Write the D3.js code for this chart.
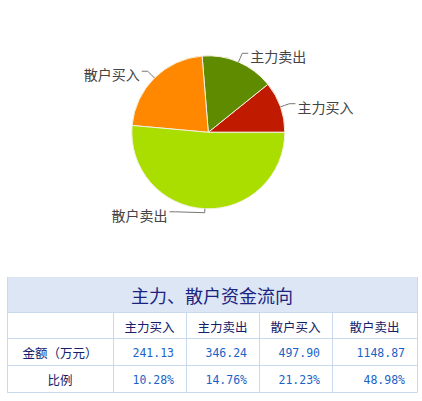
<!DOCTYPE html>
<html>
<head>
<meta charset="utf-8">
<script src="https://cdn.jsdelivr.net/npm/d3@7"></script>
<style>
  body { margin: 0; background: #fff; }
  svg { display: block; }
</style>
</head>
<body>
<div id="chart"></div>
<script>
// data
const categories = ["主力买入", "主力卖出", "散户买入", "散户卖出"];
const amounts = [241.13, 346.24, 497.90, 1148.87];
const amountLabels = ["241.13", "346.24", "497.90", "1148.87"];
const ratioLabels = ["10.28%", "14.76%", "21.23%", "48.98%"];
const sliceColors = ["#c01b00", "#5f8b00", "#ff8800", "#a9de00"];
const tableTitle = "主力、散户资金流向";
const rowHeaders = ["金额（万元）", "比例"];

const W = 422, H = 401;
const svg = d3.select("#chart").append("svg")
    .attr("width", W)
    .attr("height", H);

// ---- pie ----
const cx = 208.3, cy = 132.3, r = 76.5;
const labelR = 86;

// start at 3 o'clock and go counter-clockwise
const pie = d3.pie()
    .sort(null)
    .startAngle(Math.PI / 2)
    .endAngle(Math.PI / 2 - 2 * Math.PI);

const arcs = pie(amounts);
const arc = d3.arc().innerRadius(0).outerRadius(r);

const pieG = svg.append("g")
    .attr("transform", `translate(${cx},${cy})`);

pieG.selectAll("path.slice")
    .data(arcs)
    .join("path")
    .attr("class", "slice")
    .attr("d", arc)
    .attr("fill", (d, i) => sliceColors[i])
    .attr("stroke", "#f4f0e0")
    .attr("stroke-width", 1);

// labels with connectors
arcs.forEach((d, i) => {
    const m = (d.startAngle + d.endAngle) / 2;
    const sx = Math.sin(m), sy = -Math.cos(m);
    const left = sx < 0;
    let dy = labelR * sy;
    dy = Math.max(-(r + 3), Math.min(r + 3, dy));
    const dx = (left ? -1 : 1) * Math.sqrt(labelR * labelR - dy * dy);

    const pts = [
        [r * sx, r * sy],
        [(r + 4) * sx, (r + 4) * sy],
        [dx, dy],
        [dx + (left ? -6 : 6), dy]
    ];
    pieG.append("path")
        .attr("d", d3.line()(pts))
        .attr("fill", "none")
        .attr("stroke", "#777")
        .attr("stroke-width", 1);

    pieG.append("text")
        .attr("x", dx + (left ? -8 : 8))
        .attr("y", dy + 3)
        .attr("text-anchor", left ? "end" : "start")
        .attr("dominant-baseline", "central")
        .attr("font-family", "'Noto Sans CJK SC', sans-serif")
        .attr("font-size", 14)
        .attr("fill", "#444")
        .text(categories[i]);
});

// ---- table ----
const colEdges = [7, 113, 186, 259, 332, 417];
const rowEdges = [277, 312, 338, 365, 392];
const lineColor = "#c9d8ef";
const tbl = svg.append("g");

tbl.append("rect")
    .attr("x", colEdges[0]).attr("y", rowEdges[0])
    .attr("width", colEdges[5] - colEdges[0])
    .attr("height", rowEdges[1] - rowEdges[0])
    .attr("fill", "#dce6f5");

tbl.append("text")
    .attr("x", (colEdges[0] + colEdges[5]) / 2)
    .attr("y", (rowEdges[0] + rowEdges[1]) / 2)
    .attr("text-anchor", "middle")
    .attr("dominant-baseline", "central")
    .attr("font-family", "'Noto Sans CJK SC', sans-serif")
    .attr("font-size", 18)
    .attr("fill", "#1a2380")
    .text(tableTitle);

// horizontal lines
tbl.selectAll("line.h")
    .data(rowEdges.slice(1))
    .join("line")
    .attr("class", "h")
    .attr("x1", colEdges[0]).attr("x2", colEdges[5])
    .attr("y1", d => d + 0.5).attr("y2", d => d + 0.5)
    .attr("stroke", lineColor);

// vertical lines
tbl.selectAll("line.v")
    .data(colEdges)
    .join("line")
    .attr("class", "v")
    .attr("x1", d => d + 0.5).attr("x2", d => d + 0.5)
    .attr("y1", (d, i) => (i === 0 || i === colEdges.length - 1) ? rowEdges[0] : rowEdges[1])
    .attr("y2", rowEdges[4] + 0.5)
    .attr("stroke", lineColor);

const cjk = "'Noto Sans CJK SC', sans-serif";
const mono = "'DejaVu Sans Mono', 'Liberation Mono', monospace";

// column headers
tbl.selectAll("text.colhead")
    .data(categories)
    .join("text")
    .attr("class", "colhead")
    .attr("x", (d, i) => (colEdges[i + 1] + colEdges[i + 2]) / 2)
    .attr("y", (rowEdges[1] + rowEdges[2]) / 2 + 1)
    .attr("text-anchor", "middle")
    .attr("dominant-baseline", "central")
    .attr("font-family", cjk)
    .attr("font-size", 12.5)
    .attr("fill", "#14206a")
    .text(d => d);

// row headers
tbl.selectAll("text.rowhead")
    .data(rowHeaders)
    .join("text")
    .attr("class", "rowhead")
    .attr("x", (colEdges[0] + colEdges[1]) / 2)
    .attr("y", (d, i) => (rowEdges[i + 2] + rowEdges[i + 3]) / 2 + 1)
    .attr("text-anchor", "middle")
    .attr("dominant-baseline", "central")
    .attr("font-family", cjk)
    .attr("font-size", 12.5)
    .attr("fill", "#14206a")
    .text(d => d);

// values
[amountLabels, ratioLabels].forEach((row, ri) => {
    tbl.selectAll("text.val" + ri)
        .data(row)
        .join("text")
        .attr("class", "val" + ri)
        .attr("x", (d, i) => colEdges[i + 2] - 12)
        .attr("y", (rowEdges[ri + 2] + rowEdges[ri + 3]) / 2 + 1)
        .attr("text-anchor", "end")
        .attr("dominant-baseline", "central")
        .attr("font-family", mono)
        .attr("font-size", 11.5)
        .attr("fill", "#1a63c6")
        .text(d => d);
});
</script>
</body>
</html>
